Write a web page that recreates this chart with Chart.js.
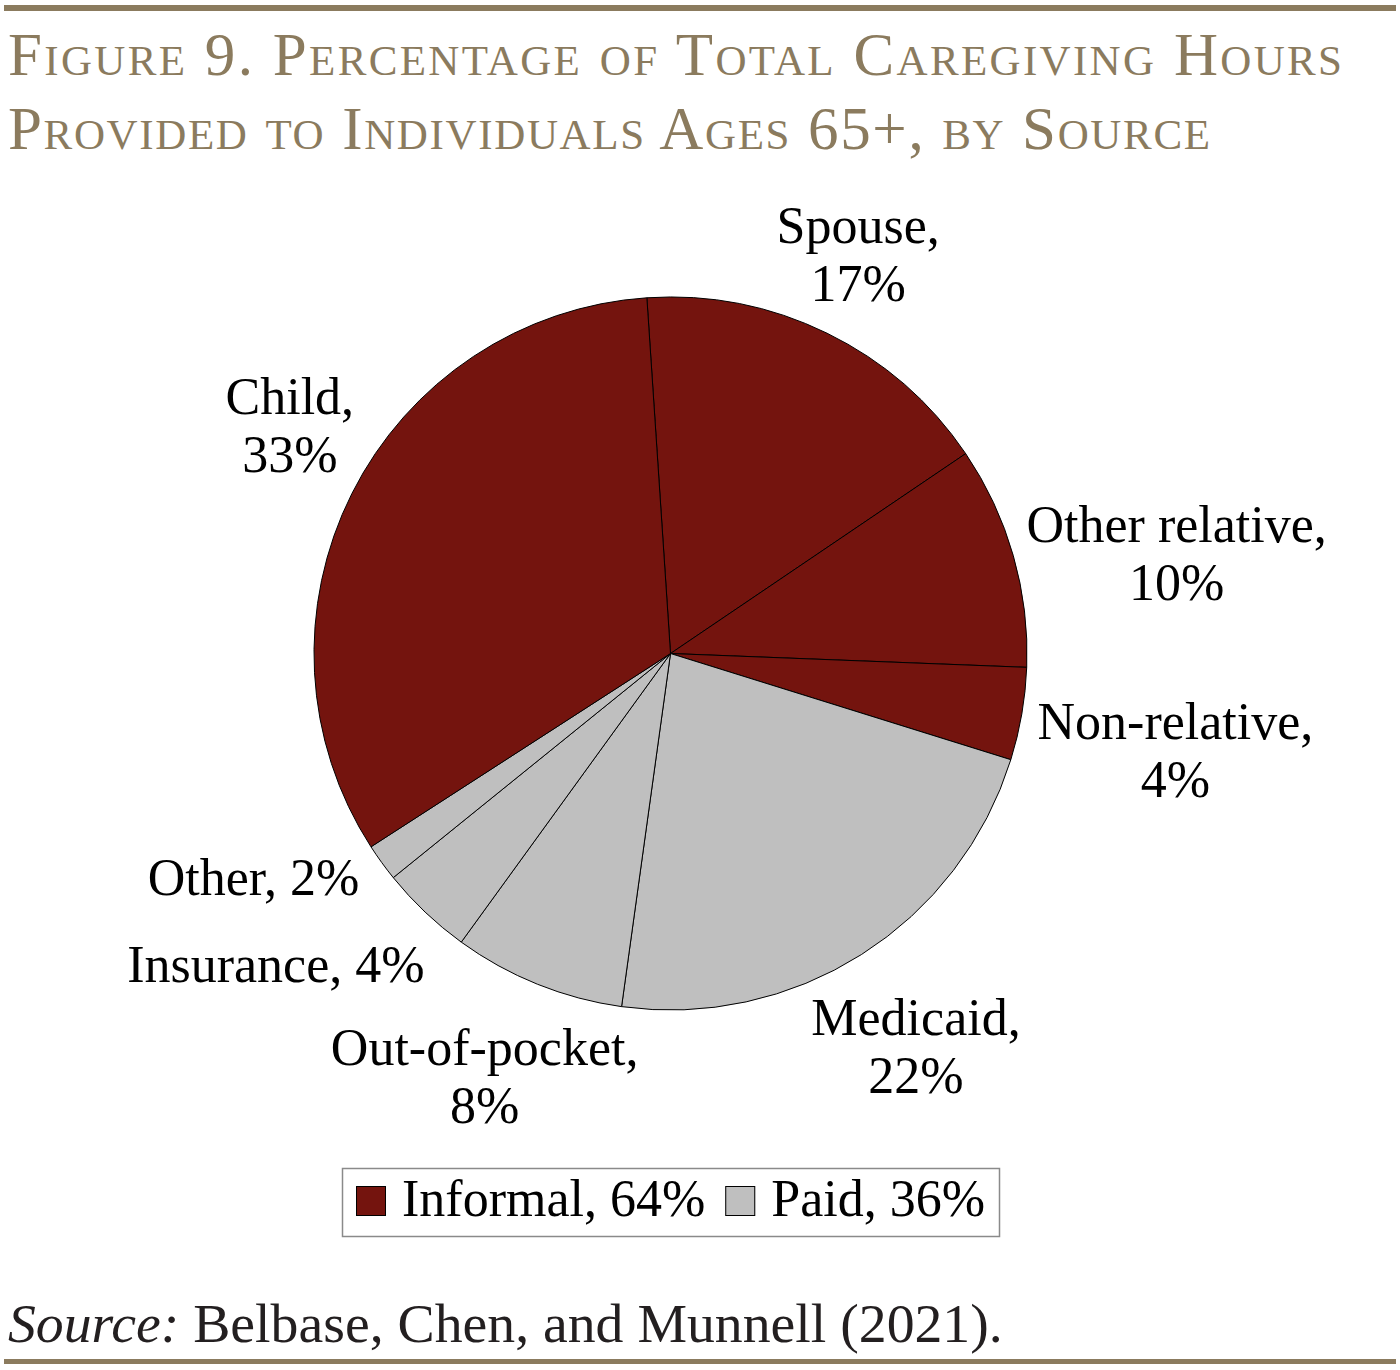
<!DOCTYPE html>
<html>
<head>
<meta charset="utf-8">
<script src="https://cdn.jsdelivr.net/npm/chart.js@4.4.1/dist/chart.umd.min.js"></script>
<style>
  html, body { margin: 0; padding: 0; background: #fff; }
  #wrap { position: relative; width: 1400px; height: 1370px; overflow: hidden; }
  #myChart { position: absolute; left: 0; top: 0; }
  .rule { position: absolute; left: 4px; width: 1392px; background: #8B7B5E; }
  .title { position: absolute; left: 8px; font-family: "Liberation Serif", serif; font-size: 61px;
           line-height: 74px; color: #8B7B5E; font-variant: small-caps; white-space: nowrap; }
  #source { position: absolute; left: 8px; font-family: "Liberation Serif", serif; font-size: 52px;
            line-height: 64px; color: #231F20; white-space: nowrap; }
</style>
</head>
<body>
<div id="wrap">
  <div class="rule" style="top:5px;height:6px"></div>
  <div class="title" id="t1" style="top:18px">Figure 9. Percentage of Total Caregiving Hours</div>
  <div class="title" id="t2" style="top:92px">Provided to Individuals Ages 65+, by Source</div>
  <canvas id="myChart" width="1400" height="1370"></canvas>
  <div id="source"><i>Source:</i> Belbase, Chen, and Munnell (2021).</div>
  <div class="rule" style="top:1359px;height:5px"></div>
</div>
<script>
// data (share of caregiving hours, %)
var categories = ["Spouse", "Other relative", "Non-relative", "Medicaid", "Out-of-pocket", "Insurance", "Other", "Child"];
var shares = [16.6, 10.1, 4.2, 22.4, 7.8, 4.2, 1.7, 33.1];
var groups = ["Informal", "Informal", "Informal", "Paid", "Paid", "Paid", "Paid", "Informal"];
var groupNames = ["Informal", "Paid"];

// look
var groupColors = { Informal: "#74140E", Paid: "#BFBFBF" };
var labelFont = '52px "Liberation Serif", serif';
var lineH = 58;
var labelGap = 20;
var splitLabel = [true, true, true, true, true, false, false, true];
var labelNudge = [[-6, 1], [-6, 50], [-4, 13], [7, 21], [-22, 20], [-108, 13], [-72, -22], [20, -23]];
var legendTop = 1168, legendH = 68, legendSq = 30;

function pct(v) { return Math.round(v) + "%"; }

var sliceLabels = {
  id: "sliceLabels",
  afterDatasetsDraw: function (chart) {
    var ctx = chart.ctx;
    var meta = chart.getDatasetMeta(0);
    ctx.save();
    ctx.font = labelFont;
    ctx.fillStyle = "#000";
    ctx.textAlign = "center";
    ctx.textBaseline = "middle";
    meta.data.forEach(function (arc, i) {
      var p = arc.getProps(["x", "y", "startAngle", "endAngle", "outerRadius"], true);
      var mid = (p.startAngle + p.endAngle) / 2;
      var dx = Math.cos(mid), dy = Math.sin(mid);
      var lines = splitLabel[i] ? [categories[i] + ",", pct(shares[i])] : [categories[i] + ", " + pct(shares[i])];
      var w = Math.max.apply(null, lines.map(function (l) { return ctx.measureText(l).width; }));
      var h = lines.length * lineH;
      var ex = Math.abs(dx) > 1e-6 ? w / 2 / Math.abs(dx) : Infinity;
      var ey = Math.abs(dy) > 1e-6 ? h / 2 / Math.abs(dy) : Infinity;
      var r = p.outerRadius + labelGap + Math.min(ex, ey);
      var cx = p.x + r * dx + labelNudge[i][0];
      var cy = p.y + r * dy + labelNudge[i][1];
      lines.forEach(function (l, k) {
        ctx.fillText(l, cx, cy + (k - (lines.length - 1) / 2) * lineH);
      });
    });
    ctx.restore();
  }
};

var groupLegend = {
  id: "groupLegend",
  afterDraw: function (chart) {
    var ctx = chart.ctx;
    var arc = chart.getDatasetMeta(0).data[0];
    ctx.save();
    ctx.font = labelFont;
    var items = groupNames.map(function (g) {
      var sum = 0;
      shares.forEach(function (v, i) { if (groups[i] === g) sum += v; });
      return { text: g + ", " + pct(sum), color: groupColors[g] };
    });
    var pad = 14, gap = 16, itemGap = 20;
    var total = pad * 2;
    items.forEach(function (it, k) {
      it.w = ctx.measureText(it.text).width;
      total += legendSq + gap + it.w + (k ? itemGap : 0);
    });
    var left = Math.round(arc.x - total / 2);
    ctx.strokeStyle = "#8A8A8A";
    ctx.lineWidth = 1.5;
    ctx.strokeRect(left + 0.5, legendTop + 0.5, total, legendH);
    var x = left + pad;
    var sqTop = legendTop + 18;
    items.forEach(function (it, k) {
      if (k) x += itemGap;
      ctx.fillStyle = it.color;
      ctx.fillRect(x, sqTop, legendSq, legendSq);
      ctx.strokeStyle = "#000";
      ctx.lineWidth = 1;
      ctx.strokeRect(x + 0.5, sqTop + 0.5, legendSq - 1, legendSq - 1);
      x += legendSq + gap;
      ctx.fillStyle = "#000";
      ctx.textBaseline = "alphabetic";
      ctx.textAlign = "left";
      ctx.fillText(it.text, x, legendTop + 48);
      x += it.w;
    });
    ctx.restore();
  }
};

function renderChart() {
  var ctx = document.getElementById("myChart").getContext("2d");
  new Chart(ctx, {
    type: "pie",
    data: {
      labels: categories,
      datasets: [{
        data: shares,
        backgroundColor: groups.map(function (g) { return groupColors[g]; }),
        borderColor: "#000",
        borderWidth: 1
      }]
    },
    options: {
      responsive: false,
      animation: false,
      devicePixelRatio: 1,
      rotation: -3.8,
      layout: { padding: { left: 313.5, right: 372.5, top: 296.5, bottom: 359.5 } },
      plugins: { legend: { display: false }, tooltip: { enabled: false } },
      events: []
    },
    plugins: [sliceLabels, groupLegend]
  });
}

function fitSpacing(id, target) {
  var el = document.getElementById(id);
  el.style.letterSpacing = "0px";
  var w = el.getBoundingClientRect().width;
  var n = el.textContent.length;
  el.style.letterSpacing = ((target - w) / (n - 1)) + "px";
}

function fitSource(target, baseline) {
  var el = document.getElementById("source");
  var w = el.getBoundingClientRect().width;
  var fs = 52 * target / w;
  el.style.fontSize = fs + "px";
  el.style.top = (baseline - (64 - fs * 1.107) / 2 - fs * 0.891) + "px";
}

window.onload = function () {
  document.querySelectorAll(".title").forEach(function (el) { el.style.display = "inline-block"; });
  document.getElementById("source").style.display = "inline-block";
  fitSpacing("t1", 1334);
  fitSpacing("t2", 1202);
  fitSource(995, 1342);
  renderChart();
};
</script>
</body>
</html>
